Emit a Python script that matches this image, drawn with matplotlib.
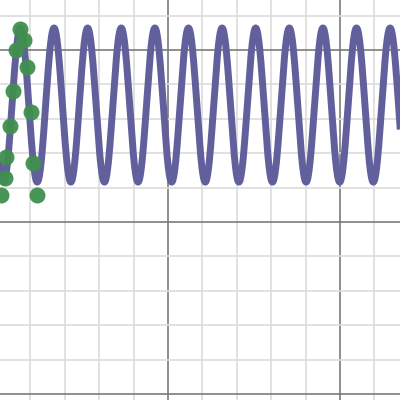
import numpy as np
import matplotlib
matplotlib.use("Agg")
import matplotlib.pyplot as plt

pts_x = [-4.30, -4.19, -4.42, -4.10, -4.51, -3.98, -4.59, -4.71, -3.92, -4.74, -4.85, -3.81]
pts_y = [5.61, 5.29, 5.00, 4.51, 3.81, 3.20, 2.79, 1.89, 1.72, 1.28, 0.78, 0.78]
offset, amp, period, phase = 3.4, 2.24, 0.977, -4.29

fig = plt.figure(figsize=(4, 4), dpi=100)
ax = fig.add_axes([0, 0, 1, 1])
xl = (-168/34.4, 232/34.4)
yl = (-178/34.4, 222/34.4)
ax.set_xlim(*xl); ax.set_ylim(*yl)
for v in np.arange(-4, 7):
    ax.axvline(v, color='#dcdcdc' if v % 5 else '#7a7a7a', lw=1.2, zorder=0)
for v in np.arange(-5, 7):
    ax.axhline(v, color='#dcdcdc' if v % 5 else '#7a7a7a', lw=1.2, zorder=0)
x = np.linspace(xl[0], xl[1], 3000)
y = offset + amp*np.cos(2*np.pi*(x-phase)/period)
ax.plot(x, y, color='#62609c', lw=5, zorder=2)
ax.plot(pts_x, pts_y, 'o', color='#3f8f4e', ms=11.5, alpha=0.95, zorder=3, mec='none')
ax.axis('off')
fig.savefig('out.png', dpi=100)
